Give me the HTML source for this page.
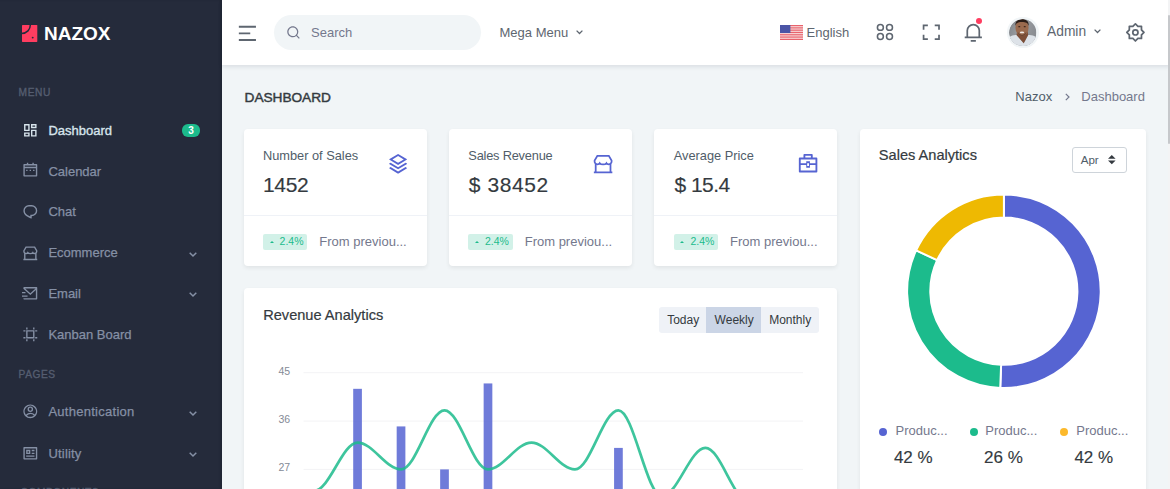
<!DOCTYPE html>
<html><head><meta charset="utf-8">
<style>
*{box-sizing:border-box;margin:0;padding:0}
html,body{width:1170px;height:489px;overflow:hidden;background:#f1f5f7;font-family:"Liberation Sans",Arial,sans-serif;}
.a{position:absolute;white-space:nowrap;line-height:1}
svg.i{position:absolute;overflow:visible}
#side{position:absolute;left:0;top:0;width:222px;height:489px;background:#252b3b;box-shadow:inset -2px 0 2px rgba(0,0,0,.12)}
#hdr{position:absolute;left:222px;top:0;width:948px;height:64.6px;background:#fff;box-shadow:0 2px 4px rgba(15,34,58,.10)}
.card{position:absolute;background:#fff;border-radius:4px;box-shadow:0 2px 4px rgba(0,0,0,.07)}
.mt{color:#8590a5;opacity:.5;font-size:10.2px;letter-spacing:.55px;-webkit-text-stroke:.3px #8590a5}
.mi{color:#8590a5;font-size:13px;-webkit-text-stroke:.25px #8590a5}
.chev{position:absolute}
.lab{font-size:12.8px;color:#505d69}
.val{font-size:21px;color:#343a40;-webkit-text-stroke:.15px #343a40}
.bdg{top:234.3px;height:15.6px;width:44.6px;border-radius:2px;background:#d2f1e8;color:#1cbb8c;font-size:10.5px;line-height:15.6px;padding-left:16.8px}
.tri{position:absolute;left:6.8px;top:6.4px;width:0;height:0;border-left:2.1px solid transparent;border-right:2.1px solid transparent;border-bottom:2.7px solid #1cbb8c}
.frm{top:234.5px;font-size:13px;color:#74788d}
.ttl{font-size:14.6px;color:#343a40;-webkit-text-stroke:.2px #343a40}
.btx{top:313.7px;font-size:12px;color:#343a40}
.lg{top:424.2px;font-size:13px;color:#74788d}
.pc{top:449.4px;font-size:17px;color:#343a40;-webkit-text-stroke:.15px #343a40}
</style></head>
<body>
<div id="side">
  <!-- logo -->
  <svg class="i" style="left:22.4px;top:24.9px" width="15.3" height="16.9" viewBox="0 0 15.3 16.9">
    <rect x="0" y="0" width="15.3" height="16.9" rx=".6" fill="#ff3d60"/>
    <path d="M8.4 -.5 C8.4 4.6 4.9 8.4 -.5 8.4" fill="none" stroke="#252b3b" stroke-width="1.5"/>
    <circle cx="10.7" cy="12.6" r="0.95" fill="#252b3b"/>
  </svg>
  <div class="a" style="left:44px;top:24.2px;font-size:19px;font-weight:bold;color:#fff">NAZOX</div>

  <div class="a mt" style="left:18.6px;top:88.4px">MENU</div>
  <!-- Dashboard -->
  <svg class="i" style="left:21.8px;top:121.9px" width="16.65" height="16.65" viewBox="0 0 24 24"><path fill="#d7e4ec" d="M13 21V11h8v10h-8zM3 13V3h8v10H3zm6-2V5H5v6h4zM3 21v-6h8v6H3zm2-2h4v-2H5v2zm10 0h4v-6h-4v6zM13 3h8v6h-8V3zm2 2v2h4V5h-4z"/></svg>
  <div class="a mi" style="left:48.4px;top:123.8px;color:#d7e4ec;-webkit-text-stroke:.35px #d7e4ec">Dashboard</div>
  <div class="a" style="left:182px;top:123.7px;width:18px;height:13px;border-radius:6px;background:#1cbb8c;color:#fff;font-size:10px;font-weight:bold;text-align:center;line-height:13.6px">3</div>

  <!-- Calendar -->
  <svg class="i" style="left:21.8px;top:162.2px" width="16.65" height="16.65" viewBox="0 0 24 24"><path fill="#8590a5" d="M17 3h4a1 1 0 0 1 1 1v16a1 1 0 0 1-1 1H3a1 1 0 0 1-1-1V4a1 1 0 0 1 1-1h4V1h2v2h6V1h2v2zM4 9v10h16V9H4zm0-4v2h16V5H4zm2 6h2v2H6v-2zm5 0h2v2h-2v-2zm5 0h2v2h-2v-2z"/></svg>
  <div class="a mi" style="left:48.4px;top:164.55px">Calendar</div>

  <!-- Chat -->
  <svg class="i" style="left:21.8px;top:203.1px" width="16.65" height="16.65" viewBox="0 0 24 24"><path fill="#8590a5" d="M10 3h4a8 8 0 1 1 0 16v3.5c-5-2-12-5-12-11.5a8 8 0 0 1 8-8zm2 14h2a6 6 0 1 0 0-12h-4a6 6 0 0 0-6 6c0 3.61 2.462 5.966 8 8.48V17z"/></svg>
  <div class="a mi" style="left:48.4px;top:205.4px">Chat</div>

  <!-- Ecommerce -->
  <svg class="i" style="left:21.8px;top:245.2px" width="16.65" height="16.65" viewBox="0 0 24 24" fill="none" stroke="#8590a5" stroke-width="2"><path d="M5.8 3H18.2L21.2 8.2C21.6 10.5 20 12.3 18.1 12.3 16.9 12.3 16 11.7 15.6 11 15 11.8 13.9 12.4 12 12.4 10.1 12.4 9 11.8 8.4 11 8 11.7 7.1 12.3 5.9 12.3 4 12.3 2.4 10.5 2.8 8.2Z"/><path d="M4 12V20.5M20 12V20.5M2 21H22"/></svg>
  <div class="a mi" style="left:48.4px;top:246.25px">Ecommerce</div>
  <svg class="i" style="left:188.5px;top:251.5px" width="8" height="5" viewBox="0 0 8 5"><path d="M.7.7 4 4 7.3.7" fill="none" stroke="#8590a5" stroke-width="1.5"/></svg>

  <!-- Email -->
  <svg class="i" style="left:21.8px;top:284.9px" width="16.65" height="16.65" viewBox="0 0 24 24"><path fill="#8590a5" d="M22 20.007a1 1 0 0 1-.992.993H2.992A.993.993 0 0 1 2 20.007V19h18V7.3l-8 7.2-10-9V4a1 1 0 0 1 1-1h18a1 1 0 0 1 1 1v16.007zM4.434 5L12 11.81 19.566 5H4.434zM0 15h8v2H0v-2zm0-5h5v2H0v-2z"/></svg>
  <div class="a mi" style="left:48.4px;top:287.1px">Email</div>
  <svg class="i" style="left:188.5px;top:292.4px" width="8" height="5" viewBox="0 0 8 5"><path d="M.7.7 4 4 7.3.7" fill="none" stroke="#8590a5" stroke-width="1.5"/></svg>

  <!-- Kanban -->
  <svg class="i" style="left:21.8px;top:325.7px" width="16.65" height="16.65" viewBox="0 0 24 24"><path fill="#8590a5" d="M8 8v8h8V8H8zM6 6h12v12H6V6zm0-4h2v3H6V2zm0 17h2v3H6v-3zM2 6h3v2H2V6zm0 10h3v2H2v-2zM19 6h3v2h-3V6zm0 10h3v2h-3v-2zM16 2h2v3h-2V2zm0 17h2v3h-2v-3z"/></svg>
  <div class="a mi" style="left:48.4px;top:327.95px">Kanban Board</div>

  <div class="a mt" style="left:18.6px;top:370.4px">PAGES</div>

  <!-- Authentication -->
  <svg class="i" style="left:21.8px;top:403.2px" width="16.65" height="16.65" viewBox="0 0 24 24"><path fill="#8590a5" d="M12 22C6.477 22 2 17.523 2 12S6.477 2 12 2s10 4.477 10 10-4.477 10-10 10zm-4.987-3.744A7.966 7.966 0 0 0 12 20c1.97 0 3.773-.712 5.167-1.892A6.979 6.979 0 0 0 12.16 16a6.981 6.981 0 0 0-5.147 2.256zM5.616 16.82A8.975 8.975 0 0 1 12.16 14a8.972 8.972 0 0 1 6.362 2.634 8 8 0 1 0-12.906.187zM12 13a4 4 0 1 1 0-8 4 4 0 0 1 0 8zm0-2a2 2 0 1 0 0-4 2 2 0 0 0 0 4z"/></svg>
  <div class="a mi" style="left:48.4px;top:405.3px;letter-spacing:.27px">Authentication</div>
  <svg class="i" style="left:188.5px;top:410.7px" width="8" height="5" viewBox="0 0 8 5"><path d="M.7.7 4 4 7.3.7" fill="none" stroke="#8590a5" stroke-width="1.5"/></svg>

  <!-- Utility -->
  <svg class="i" style="left:21.8px;top:444.5px" width="16.65" height="16.65" viewBox="0 0 24 24"><path fill="#8590a5" d="M3 3h18a1 1 0 0 1 1 1v16a1 1 0 0 1-1 1H3a1 1 0 0 1-1-1V4a1 1 0 0 1 1-1zm1 2v14h16V5H4zm2 2h6v6H6V7zm2 2v2h2V9H8zm-2 6h12v2H6v-2zm8-8h4v2h-4V7zm0 4h4v2h-4v-2z"/></svg>
  <div class="a mi" style="left:48.4px;top:447px;letter-spacing:.2px">Utility</div>
  <svg class="i" style="left:188.5px;top:452px" width="8" height="5" viewBox="0 0 8 5"><path d="M.7.7 4 4 7.3.7" fill="none" stroke="#8590a5" stroke-width="1.5"/></svg>

  <div class="a mt" style="left:20.5px;top:487.6px">COMPONENTS</div>
</div>

<div id="hdr"></div>
<!-- header content -->
<svg class="i" style="left:236.35px;top:21.85px" width="22.8" height="22.8" viewBox="0 0 24 24"><path fill="#5e6670" d="M3 4h18v2H3V4zm0 7h12v2H3v-2zm0 7h18v2H3v-2z"/></svg>
<div class="a" style="left:273.7px;top:14.9px;width:207px;height:35px;border-radius:17.5px;background:#f1f5f7"></div>
<svg class="i" style="left:285.7px;top:24.6px" width="14.8" height="14.8" viewBox="0 0 24 24"><path fill="#74788d" d="M18.031 16.617l4.283 4.282-1.415 1.415-4.282-4.283A8.960 8.960 0 0 1 11 20c-4.968 0-9-4.032-9-9s4.032-9 9-9 9 4.032 9 9a8.960 8.960 0 0 1-1.969 5.617zm-2.006-.742A6.977 6.977 0 0 0 18 11c0-3.868-3.133-7-7-7-3.868 0-7 3.132-7 7 0 3.867 3.132 7 7 7a6.977 6.977 0 0 0 4.875-1.975l.15-.15z"/></svg>
<div class="a" style="left:311px;top:26px;font-size:13px;color:#74788d">Search</div>

<div class="a" style="left:499.5px;top:26px;font-size:13px;color:#5e6670">Mega Menu</div>
<svg class="i" style="left:576px;top:30px" width="7" height="4.5" viewBox="0 0 7 4.5"><path d="M.6.6 3.5 3.5 6.4.6" fill="none" stroke="#5e6670" stroke-width="1.3"/></svg>

<svg class="i" style="left:779.8px;top:25px" width="23" height="15" viewBox="0 0 23 15">
  <rect width="23" height="15" fill="#f8d7d9"/>
  <g fill="#e8636c"><rect y="0" width="23" height="1.15"/><rect y="2.3" width="23" height="1.15"/><rect y="4.6" width="23" height="1.15"/><rect y="6.9" width="23" height="1.15"/><rect y="9.2" width="23" height="1.15"/><rect y="11.5" width="23" height="1.15"/><rect y="13.85" width="23" height="1.15"/></g>
  <rect width="10.4" height="8" fill="#4b55a6"/>
</svg>
<div class="a" style="left:806.5px;top:26px;font-size:13px;color:#5e6670">English</div>

<svg class="i" style="left:874.2px;top:21.2px" width="21.9" height="21.9" viewBox="0 0 24 24" fill="none" stroke="#5e6670" stroke-width="1.7"><circle cx="7" cy="7" r="3.25"/><circle cx="17" cy="7" r="3.25"/><circle cx="7" cy="17" r="3.25"/><circle cx="17" cy="17" r="3.25"/></svg>
<svg class="i" style="left:920.9px;top:22px" width="20.6" height="20.6" viewBox="0 0 24 24"><path fill="#5e6670" d="M20 3h2v6h-2V5h-4V3h4zM4 3h4v2H4v4H2V3h2zm16 16v-4h2v6h-6v-2h4zM4 19h4v2H2v-6h2v4z"/></svg>
<svg class="i" style="left:963.3px;top:21.9px" width="20.6" height="20.6" viewBox="0 0 24 24"><path fill="#5e6670" d="M20 17h2v2H2v-2h2v-7a8 8 0 1 1 16 0v7zm-2 0v-7a6 6 0 1 0-12 0v7h12zm-9 4h6v2H9v-2z"/></svg>
<div class="a" style="left:976.2px;top:18.1px;width:6px;height:6px;border-radius:50%;background:#ff3d60"></div>

<!-- avatar -->
<div class="a" style="left:1007.3px;top:17px;width:31.3px;height:31.3px;border-radius:50%;background:#f1f5f7;padding:1.95px">
  <svg width="27.4" height="27.4" viewBox="0 0 40 40" style="display:block;border-radius:50%">
    <defs><clipPath id="cc"><circle cx="20" cy="20" r="20"/></clipPath>
    <linearGradient id="bgg" x1="0" y1="0" x2="1" y2=".3"><stop offset="0" stop-color="#7f8388"/><stop offset=".5" stop-color="#9da0a4"/><stop offset="1" stop-color="#8a8d92"/></linearGradient></defs>
    <g clip-path="url(#cc)">
      <rect width="40" height="40" fill="url(#bgg)"/>
      <path d="M0 40V27C4 24 8 23 11 23.5L21.5 35.5 28 23.5C32 23 36 24 40 27V40Z" fill="#dde2e8"/>
      <path d="M11 23.5 21.5 35.5 28 23.5 27 17H12Z" fill="#7d4e37"/>
      <ellipse cx="19" cy="12.8" rx="9.6" ry="12" fill="#9a6a4e"/>
      <path d="M9.3 10C8.8 2.5 13.5 .2 19 .2S29.3 2.5 28.7 10C27.5 5.5 24.5 4.2 19 4.2S10.5 5.5 9.3 10Z" fill="#2b1d17"/>
      <ellipse cx="15" cy="11.2" rx="1.6" ry=".9" fill="#3a241a"/>
      <ellipse cx="23" cy="11.2" rx="1.6" ry=".9" fill="#3a241a"/>
      <path d="M12.5 18.5Q19 28 25.5 18.5Q24.5 24 19 24.8Q13.5 24 12.5 18.5Z" fill="#4a2d20" opacity=".6"/>
      <ellipse cx="19" cy="19.6" rx="3.2" ry="1.3" fill="#efe9e4"/>
    </g>
  </svg>
</div>
<div class="a" style="left:1047px;top:24.6px;font-size:13.8px;color:#5e6670">Admin</div>
<svg class="i" style="left:1093.7px;top:29px" width="7" height="4.5" viewBox="0 0 7 4.5"><path d="M.6.6 3.5 3.5 6.4.6" fill="none" stroke="#5e6670" stroke-width="1.3"/></svg>
<svg class="i" style="left:1125.35px;top:21.9px" width="20.8" height="20.8" viewBox="0 0 24 24"><path fill="#5e6670" d="M8.686 4l2.607-2.607a1 1 0 0 1 1.414 0L15.314 4H19a1 1 0 0 1 1 1v3.686l2.607 2.607a1 1 0 0 1 0 1.414L20 15.314V19a1 1 0 0 1-1 1h-3.686l-2.607 2.607a1 1 0 0 1-1.414 0L8.686 20H5a1 1 0 0 1-1-1v-3.686l-2.607-2.607a1 1 0 0 1 0-1.414L4 8.686V5a1 1 0 0 1 1-1h3.686zM6 6v3.515L3.515 12 6 14.485V18h3.515L12 20.485 14.485 18H18v-3.515L20.485 12 18 9.515V6h-3.515L12 3.515 9.515 6H6zm6 10a4 4 0 1 1 0-8 4 4 0 0 1 0 8zm0-2a2 2 0 1 0 0-4 2 2 0 0 0 0 4z"/></svg>
<div class="a" style="left:1168px;top:0;width:2px;height:489px;background:#f3f4f5"></div><div class="a" style="left:1168.4px;top:14.8px;width:1.6px;height:129.3px;background:#c6c8cb;border-radius:1px"></div>

<!-- page title -->
<div class="a" style="left:244.6px;top:90.7px;font-size:13.7px;color:#343a40;-webkit-text-stroke:.45px #343a40;letter-spacing:-.05px">DASHBOARD</div>
<div class="a" style="left:1015.3px;top:89.5px;font-size:13px;color:#505d69">Nazox</div>
<svg class="i" style="left:1064.6px;top:92.5px" width="5" height="8" viewBox="0 0 5 8"><path d="M.8.8 4 4 .8 7.2" fill="none" stroke="#74788d" stroke-width="1.2"/></svg>
<div class="a" style="left:1081.3px;top:89.5px;font-size:13px;color:#74788d">Dashboard</div>

<!-- stat cards -->
<div class="card" style="left:244px;top:128.6px;width:183px;height:137.1px"></div>
<div class="card" style="left:449px;top:128.6px;width:183px;height:137.1px"></div>
<div class="card" style="left:654px;top:128.6px;width:183px;height:137.1px"></div>
<div class="a" style="left:244px;top:215.4px;width:183px;height:1px;background:#eff2f7"></div>
<div class="a" style="left:449px;top:215.4px;width:183px;height:1px;background:#eff2f7"></div>
<div class="a" style="left:654px;top:215.4px;width:183px;height:1px;background:#eff2f7"></div>

<div class="a lab" style="left:262.9px;top:149.7px">Number of Sales</div>
<div class="a lab" style="left:468.3px;top:150px;letter-spacing:-.2px">Sales Revenue</div>
<div class="a lab" style="left:673.7px;top:150px">Average Price</div>
<div class="a val" style="left:262.9px;top:174px;letter-spacing:-.3px">1452</div>
<div class="a val" style="left:468.7px;top:174.3px;letter-spacing:.6px">$ 38452</div>
<div class="a val" style="left:674.4px;top:174.3px;letter-spacing:-.5px">$ 15.4</div>

<!-- stack icon -->
<svg class="i" style="left:386.9px;top:153.1px" width="22.2" height="22.2" viewBox="0 0 24 24"><path fill="#5664d2" d="M20.083 15.2l1.202.721a.5.5 0 0 1 0 .858l-8.77 5.262a1 1 0 0 1-1.03 0l-8.77-5.262a.5.5 0 0 1 0-.858l1.202-.721L12 20.050l8.083-4.850zm0-4.7l1.202.721a.5.5 0 0 1 0 .858L12 17.650l-9.285-5.571a.5.5 0 0 1 0-.858l1.202-.721L12 15.350l8.083-4.850zm-7.569-9.191l8.771 5.262a.5.5 0 0 1 0 .858L12 12.950 2.715 7.429a.5.5 0 0 1 0-.858l8.770-5.262a1 1 0 0 1 1.030 0zM12 3.332L5.887 7 12 10.668 18.113 7 12 3.332z"/></svg>
<!-- store icon -->
<svg class="i" style="left:592.2px;top:152.6px" width="22.2" height="22.2" viewBox="0 0 24 24" fill="none" stroke="#5664d2" stroke-width="1.9"><path d="M5.8 3H18.2L21.2 8.2C21.6 10.5 20 12.3 18.1 12.3 16.9 12.3 16 11.7 15.6 11 15 11.8 13.9 12.4 12 12.4 10.1 12.4 9 11.8 8.4 11 8 11.7 7.1 12.3 5.9 12.3 4 12.3 2.4 10.5 2.8 8.2Z"/><path d="M4 12V20.5M20 12V20.5M2 21H22"/></svg>
<!-- briefcase icon -->
<svg class="i" style="left:797.3px;top:152.9px" width="22.2" height="22.2" viewBox="0 0 24 24"><path fill="#5664d2" d="M7 5V2a1 1 0 0 1 1-1h8a1 1 0 0 1 1 1v3h4a1 1 0 0 1 1 1v14a1 1 0 0 1-1 1H3a1 1 0 0 1-1-1V6a1 1 0 0 1 1-1h4zm3 8H4v6h16v-6h-6v3h-4v-3zm10-6H4v4h6V9h4v2h6V7zm-9 4v3h2v-3h-2zM9 3v2h6V3H9z"/></svg>

<!-- badges -->
<div class="a bdg" style="left:262.8px"><span class="tri"></span>2.4%</div>
<div class="a bdg" style="left:468.2px"><span class="tri"></span>2.4%</div>
<div class="a bdg" style="left:673.6px"><span class="tri"></span>2.4%</div>
<div class="a frm" style="left:319.3px">From previou...</div>
<div class="a frm" style="left:524.7px">From previou...</div>
<div class="a frm" style="left:730.1px">From previou...</div>

<!-- revenue card -->
<div class="card" style="left:244px;top:288.2px;width:593px;height:230px"></div>
<div class="a ttl" style="left:263.2px;top:307.7px">Revenue Analytics</div>
<div class="a" style="left:659.2px;top:306.9px;width:159.7px;height:25.9px;border-radius:3px;background:#eff2f7;overflow:hidden">
  <div class="a" style="left:46.6px;top:0;width:55.3px;height:25.9px;background:#cbd5e6"></div>
</div>
<div class="a btx" style="left:667.2px">Today</div>
<div class="a btx" style="left:714.6px">Weekly</div>
<div class="a btx" style="left:769.2px">Monthly</div>

<!-- chart -->
<svg class="i" style="left:0;top:0" width="1170" height="489" viewBox="0 0 1170 489">
  <g stroke="#f3f3f5" stroke-width="1">
    <line x1="303.5" y1="372.7" x2="803" y2="372.7"/>
    <line x1="303.5" y1="421.1" x2="803" y2="421.1"/>
    <line x1="303.5" y1="469.4" x2="803" y2="469.4"/>
  </g>
  <g font-family="Liberation Sans, Arial, sans-serif" font-size="10.5" fill="#848a96">
    <text x="278.5" y="374.5">45</text>
    <text x="278.5" y="422.8">36</text>
    <text x="278.5" y="471.2">27</text>
  </g>
  <g fill="#5664d2" fill-opacity=".85" id="bars"><rect x="309.72" y="490.88" width="8.7" height="18.12"/><rect x="353.20" y="388.82" width="8.7" height="120.18"/><rect x="396.68" y="426.42" width="8.7" height="82.58"/><rect x="440.16" y="469.40" width="8.7" height="39.60"/><rect x="483.64" y="383.44" width="8.7" height="125.56"/><rect x="527.12" y="496.26" width="8.7" height="12.74"/><rect x="570.60" y="523.12" width="8.7" height="-14.12"/><rect x="614.08" y="447.91" width="8.7" height="61.09"/><rect x="657.56" y="496.26" width="8.7" height="12.74"/><rect x="701.04" y="496.26" width="8.7" height="12.74"/><rect x="744.52" y="549.98" width="8.7" height="-40.98"/><rect x="788.00" y="528.49" width="8.7" height="-19.49"/></g>
  <path id="ln" d="M314.07 490.88C329.29 490.88 342.33 442.54 357.55 442.54C372.77 442.54 385.81 469.40 401.03 469.40C416.25 469.40 429.29 410.30 444.51 410.30C459.73 410.30 472.77 469.40 487.99 469.40C503.21 469.40 516.25 442.54 531.47 442.54C546.69 442.54 559.73 469.40 574.95 469.40C590.17 469.40 603.21 410.30 618.43 410.30C633.65 410.30 646.69 496.26 661.91 496.26C677.13 496.26 690.17 447.91 705.39 447.91C720.61 447.91 733.65 501.63 748.87 501.63C764.09 501.63 777.13 528.49 792.35 528.49" fill="none" stroke="#1cbb8c" stroke-width="2.7" stroke-opacity=".85"/>
</svg>

<!-- sales analytics card -->
<div class="card" style="left:860px;top:128.8px;width:286px;height:400px"></div>
<div class="a ttl" style="left:878.8px;top:148.4px">Sales Analytics</div>
<div class="a" style="left:1072.3px;top:147.4px;width:54.6px;height:25.8px;border:1px solid #ced4da;border-radius:3px;background:#fff"></div>
<div class="a" style="left:1080.7px;top:154.3px;font-size:11.6px;color:#505d69">Apr</div>
<svg class="i" style="left:1107.9px;top:155.2px" width="7.6" height="9.2" viewBox="0 0 7.6 9.2"><path d="M3.8 0 7.6 3.8H0zM3.8 9.2 7.6 5.4H0z" fill="#343a40"/></svg>

<svg class="i" style="left:0;top:0" width="1170" height="489" viewBox="0 0 1170 489" id="donut"><path d="M1003.90 194.40A96.8 96.8 0 1 1 1000.24 387.93L1001.11 364.75A73.6 73.6 0 1 0 1003.90 217.60Z" fill="#5664d2" stroke="#fff" stroke-width="2"/><path d="M1000.24 387.93A96.8 96.8 0 0 1 916.13 250.38L937.16 260.17A73.6 73.6 0 0 0 1001.11 364.75Z" fill="#1cbb8c" stroke="#fff" stroke-width="2"/><path d="M916.13 250.38A96.8 96.8 0 0 1 1003.90 194.40L1003.90 217.60A73.6 73.6 0 0 0 937.16 260.17Z" fill="#eeb902" stroke="#fff" stroke-width="2"/></svg>

<div class="a" style="left:879.3px;top:427.9px;width:8px;height:8px;border-radius:50%;background:#5664d2"></div>
<div class="a" style="left:969.7px;top:427.9px;width:8px;height:8px;border-radius:50%;background:#1cbb8c"></div>
<div class="a" style="left:1059.7px;top:427.9px;width:8px;height:8px;border-radius:50%;background:#fcb92c"></div>
<div class="a lg" style="left:895.5px">Produc...</div>
<div class="a lg" style="left:985.3px">Produc...</div>
<div class="a lg" style="left:1076.3px">Produc...</div>
<div class="a pc" style="left:893.9px">42 %</div>
<div class="a pc" style="left:984.1px">26 %</div>
<div class="a pc" style="left:1074.4px">42 %</div>
</body></html>
